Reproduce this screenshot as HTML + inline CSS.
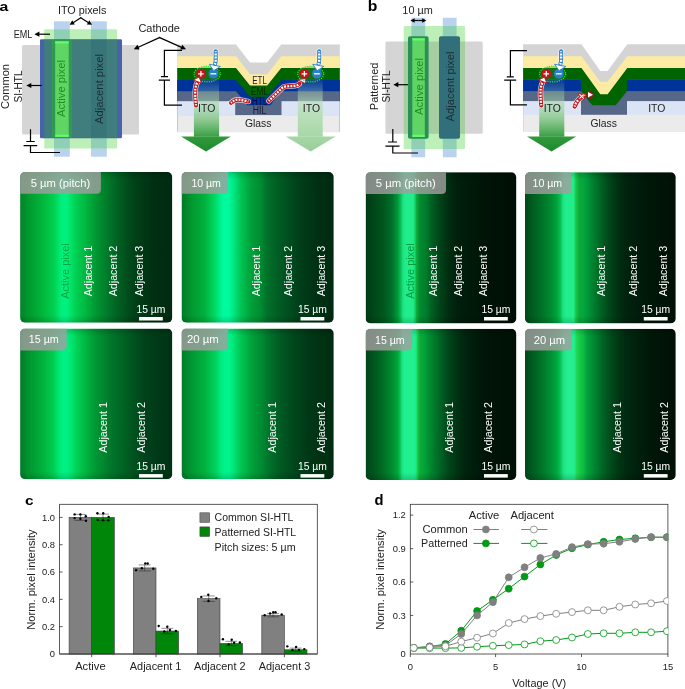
<!DOCTYPE html>
<html lang="en">
<head>
<meta charset="utf-8">
<title>Figure: pixel crosstalk with common and patterned SI-HTL</title>
<style>
html,body{margin:0;padding:0;background:#fff;}
body{width:685px;height:689px;overflow:hidden;font-family:'Liberation Sans', sans-serif;}
svg{display:block;}
svg text{font-family:'Liberation Sans', sans-serif;}
</style>
</head>
<body>
<svg width="685" height="689" viewBox="0 0 685 689">
<rect x="0" y="0" width="685" height="689" fill="#ffffff"/>
<defs>
<linearGradient id="gArrowA" x1="0" y1="0" x2="0" y2="1"><stop offset="0" stop-color="#a8d8a8" stop-opacity="0"/><stop offset="0.3" stop-color="#a8d8a8" stop-opacity="0.4"/><stop offset="0.55" stop-color="#9ad19d" stop-opacity="0.72"/><stop offset="0.76" stop-color="#7cc282" stop-opacity="0.96"/><stop offset="1" stop-color="#3a9e44" stop-opacity="1"/></linearGradient>
<linearGradient id="gArrowB" x1="0" y1="0" x2="0" y2="1"><stop offset="0" stop-color="#b5ddb5" stop-opacity="0"/><stop offset="0.3" stop-color="#b5ddb5" stop-opacity="0.45"/><stop offset="0.6" stop-color="#b9dfb9" stop-opacity="0.95"/><stop offset="1" stop-color="#a6d7a6" stop-opacity="1"/></linearGradient>
<linearGradient id="gHeadA" x1="0" y1="0" x2="0" y2="1"><stop offset="0" stop-color="#33993d"/><stop offset="1" stop-color="#1b8a2c"/></linearGradient>
<linearGradient id="gHeadB" x1="0" y1="0" x2="0" y2="1"><stop offset="0" stop-color="#a6d7a6"/><stop offset="1" stop-color="#97cf97"/></linearGradient>
</defs>
<text x="-0.50" y="10.90" font-size="13.6" fill="#000" font-weight="bold" textLength="8.8" lengthAdjust="spacingAndGlyphs">a</text>
<text x="367.80" y="11.00" font-size="14.5" fill="#000" font-weight="bold" textLength="9.6" lengthAdjust="spacingAndGlyphs">b</text>
<rect x="22" y="45" width="117" height="89.5" rx="1.5" fill="#d5d5d5"/>
<rect x="54" y="21.3" width="15.8" height="135.4" fill="#b9d3ee"/>
<rect x="91" y="21.3" width="15.8" height="135.4" fill="#b9d3ee"/>
<rect x="44.2" y="29.3" width="72.8" height="119.2" rx="1" fill="#bdf0b8"/>
<rect x="54" y="29.3" width="15.8" height="119.2" fill="#8fd0b4"/>
<rect x="91" y="29.3" width="15.8" height="119.2" fill="#8fd0b4"/>
<rect x="40" y="39.3" width="82" height="98.9" rx="1.2" fill="#4763a9"/>
<rect x="44.2" y="39.9" width="72.8" height="97.7" fill="#3f7e7d"/>
<rect x="91" y="39.9" width="15.8" height="97.7" fill="#387579"/>
<rect x="51.6" y="39.9" width="20.4" height="97.7" fill="#2f9a50"/>
<rect x="55.2" y="41.3" width="13.5" height="95.6" fill="#5fd565"/>
<rect x="55.2" y="41.3" width="13.5" height="2.2" fill="#63fb6a"/>
<rect x="55.2" y="134.7" width="13.5" height="2.2" fill="#63fb6a"/>
<text x="65.38" y="88.50" font-size="10.5" fill="#1f8f1f" text-anchor="middle" textLength="57.0" lengthAdjust="spacingAndGlyphs" transform="rotate(-90 65.38 88.50)">Active pixel</text>
<text x="103.08" y="89.00" font-size="10.5" fill="#1d2b33" text-anchor="middle" textLength="70.0" lengthAdjust="spacingAndGlyphs" transform="rotate(-90 103.08 89.00)">Adjacent pixel</text>
<text x="8.90" y="86.50" font-size="10" fill="#222" text-anchor="middle" textLength="45.0" lengthAdjust="spacingAndGlyphs" transform="rotate(-90 8.90 86.50)">Common</text>
<text x="21.80" y="86.50" font-size="10" fill="#222" text-anchor="middle" textLength="32.0" lengthAdjust="spacingAndGlyphs" transform="rotate(-90 21.80 86.50)">SI-HTL</text>
<text x="13.80" y="37.80" font-size="10" fill="#222" textLength="18.6" lengthAdjust="spacingAndGlyphs">EML</text>
<text x="82.20" y="13.80" font-size="10" fill="#222" text-anchor="middle" textLength="48.5" lengthAdjust="spacingAndGlyphs">ITO pixels</text>
<text x="159.20" y="32.10" font-size="10" fill="#222" text-anchor="middle" textLength="41.5" lengthAdjust="spacingAndGlyphs">Cathode</text>
<line x1="50.00" y1="34.20" x2="38.40" y2="34.20" stroke="#000" stroke-width="1.2"/>
<polygon points="34.40,34.20 39.40,31.60 39.40,36.80" fill="#000"/>
<line x1="41.80" y1="85.50" x2="30.30" y2="85.50" stroke="#000" stroke-width="1.2"/>
<polygon points="26.30,85.50 31.30,82.90 31.30,88.10" fill="#000"/>
<line x1="81.20" y1="17.60" x2="72.66" y2="22.90" stroke="#000" stroke-width="1.2"/>
<polygon points="69.60,24.80 72.24,20.33 74.77,24.41" fill="#000"/>
<line x1="80.40" y1="17.60" x2="88.94" y2="22.90" stroke="#000" stroke-width="1.2"/>
<polygon points="92.00,24.80 86.83,24.41 89.36,20.33" fill="#000"/>
<path d="M30.5 129.3V141.5M26.3 141.5H34.8M23.6 145.7H37.2M30.5 145.7V152.5H60" fill="none" stroke="#000" stroke-width="1.2"/>
<rect x="385.4" y="41.5" width="97.3" height="92.3" rx="1.5" fill="#d5d5d5"/>
<rect x="411.4" y="17.8" width="13.8" height="139.5" fill="#b9d3ee"/>
<rect x="442.8" y="17.8" width="13.8" height="139.5" fill="#b9d3ee"/>
<rect x="403.7" y="26" width="61.3" height="123" rx="1" fill="#bdf0b8"/>
<rect x="403.7" y="41.5" width="61.3" height="92.3" fill="#a6cfa1"/>
<rect x="411.4" y="26" width="13.8" height="123" fill="#8fd0b4"/>
<rect x="442.8" y="26" width="13.8" height="123" fill="#8fd0b4"/>
<rect x="408" y="36.3" width="20.6" height="102.5" rx="1.8" fill="#2c8f58"/>
<rect x="412.3" y="38.3" width="12.5" height="98.7" fill="#5fd565"/>
<rect x="412.3" y="38.3" width="12.5" height="2.2" fill="#63fb6a"/>
<rect x="412.3" y="134.8" width="12.5" height="2.2" fill="#63fb6a"/>
<rect x="439" y="36.3" width="21" height="102.5" rx="1.8" fill="#31707b"/>
<text x="423.18" y="86.40" font-size="10.5" fill="#1f8f1f" text-anchor="middle" textLength="57.0" lengthAdjust="spacingAndGlyphs" transform="rotate(-90 423.18 86.40)">Active pixel</text>
<text x="454.38" y="86.40" font-size="10.5" fill="#1d2b33" text-anchor="middle" textLength="70.0" lengthAdjust="spacingAndGlyphs" transform="rotate(-90 454.38 86.40)">Adjacent pixel</text>
<text x="378.40" y="86.40" font-size="10" fill="#222" text-anchor="middle" textLength="47.5" lengthAdjust="spacingAndGlyphs" transform="rotate(-90 378.40 86.40)">Patterned</text>
<text x="390.40" y="86.40" font-size="10" fill="#222" text-anchor="middle" textLength="32.0" lengthAdjust="spacingAndGlyphs" transform="rotate(-90 390.40 86.40)">SI-HTL</text>
<text x="417.60" y="14.40" font-size="10" fill="#222" text-anchor="middle" textLength="30.5" lengthAdjust="spacingAndGlyphs">10 µm</text>
<line x1="418.40" y1="20.50" x2="413.60" y2="20.50" stroke="#000" stroke-width="1.2"/>
<polygon points="410.40,20.50 414.60,18.20 414.60,22.80" fill="#000"/>
<line x1="418.40" y1="20.50" x2="423.20" y2="20.50" stroke="#000" stroke-width="1.2"/>
<polygon points="426.40,20.50 422.20,22.80 422.20,18.20" fill="#000"/>
<line x1="408.00" y1="84.70" x2="397.30" y2="84.70" stroke="#000" stroke-width="1.2"/>
<polygon points="393.30,84.70 398.30,82.10 398.30,87.30" fill="#000"/>
<path d="M392.8 129V142M388 142H397M385.4 146.2H399.5M392.8 146.2V153H418" fill="none" stroke="#000" stroke-width="1.2"/>
<polygon points="177.20,44.60 236.00,44.60 250.00,62.60 267.20,62.60 281.20,44.60 339.80,44.60 339.80,131.60 177.20,131.60" fill="#d4d4d4"/>
<polygon points="177.20,56.30 236.00,56.30 250.00,74.30 267.20,74.30 281.20,56.30 339.80,56.30 339.80,131.60 177.20,131.60" fill="#fdeaa3"/>
<polygon points="177.20,68.00 236.00,68.00 250.00,85.60 267.20,85.60 281.20,68.00 339.80,68.00 339.80,131.60 177.20,131.60" fill="#006400"/>
<polygon points="177.20,80.00 236.00,80.00 250.00,96.80 267.20,96.80 281.20,80.00 339.80,80.00 339.80,131.60 177.20,131.60" fill="#003399"/>
<polygon points="177.20,91.30 236.00,91.30 247.60,105.20 270.40,105.20 281.20,91.30 339.80,91.30 339.80,116.00 177.20,116.00" fill="#566787"/>
<rect x="177.2" y="101.2" width="58.00" height="14.2" fill="#dbe4f5"/>
<rect x="281.5" y="101.2" width="58.30" height="14.2" fill="#dbe4f5"/>
<rect x="177.2" y="115.1" width="162.60" height="17.3" fill="#ebebeb"/>
<polygon points="523.10,44.30 581.50,44.30 600.30,70.90 607.60,70.90 627.30,44.30 685.00,44.30 685.00,131.20 523.10,131.20" fill="#d4d4d4"/>
<polygon points="523.10,56.30 581.50,56.30 600.30,81.80 607.60,81.80 627.30,56.30 685.00,56.30 685.00,131.20 523.10,131.20" fill="#fdeaa3"/>
<polygon points="523.10,68.00 581.50,68.00 600.30,94.20 607.60,94.20 627.30,68.00 685.00,68.00 685.00,131.20 523.10,131.20" fill="#006400"/>
<polygon points="523.10,79.60 581.00,79.60 581.00,91.30 592.30,105.20 615.70,105.20 627.00,91.30 627.00,79.60 685.00,79.60 685.00,115.60 523.10,115.60" fill="#566787"/>
<rect x="523.1" y="79.6" width="57.90" height="11.5" fill="#003399"/>
<rect x="627" y="79.6" width="58.00" height="11.5" fill="#003399"/>
<rect x="523.1" y="101.1" width="57.90" height="14" fill="#dbe4f5"/>
<rect x="627" y="101.1" width="58.00" height="14" fill="#dbe4f5"/>
<rect x="523.1" y="114.8" width="161.90" height="17.2" fill="#ebebeb"/>
<line x1="160.00" y1="37.40" x2="137.62" y2="47.56" stroke="#000" stroke-width="1.2"/>
<polygon points="133.80,49.30 137.46,44.78 139.61,49.52" fill="#000"/>
<line x1="159.20" y1="37.40" x2="182.16" y2="47.60" stroke="#000" stroke-width="1.2"/>
<polygon points="186.00,49.30 180.19,49.57 182.30,44.81" fill="#000"/>
<rect x="193.9" y="78.0" width="25.20" height="58.70" fill="url(#gArrowA)"/>
<polygon points="181.0,136.4 230.8,136.4 206.0,151.5" fill="url(#gHeadA)"/>
<rect x="297.8" y="78.0" width="24.90" height="58.70" fill="url(#gArrowB)"/>
<polygon points="285.7,136.4 335.7,136.4 310.6,151.5" fill="url(#gHeadB)"/>
<rect x="539.2" y="78.0" width="25.10" height="58.70" fill="url(#gArrowA)"/>
<polygon points="527.0,136.4 576.2,136.4 551.5,151.5" fill="url(#gHeadA)"/>
<path d="M182 50.4H164.4V76.7M164.4 80.1V105.2H182M161 76.7H168M158.8 80.1H170" fill="none" stroke="#000" stroke-width="1.2"/>
<path d="M527 50.6H510.4V76.8M510.4 80.1V104.9H527M506.8 76.8H513.8M504.2 80.1H516.2" fill="none" stroke="#000" stroke-width="1.2"/>
<ellipse cx="207.15" cy="74.1" rx="13.1" ry="7.8" fill="#2f8f2f" fill-opacity="0.35" stroke="#33e833" stroke-width="1.2" stroke-dasharray="1.1 1.2"/>
<circle cx="200.9" cy="73.8" r="4.9" fill="#c0141c"/>
<path d="M198.1 73.8H203.70000000000002M200.9 71.0V76.6" stroke="#fff" stroke-width="1.3" fill="none"/>
<circle cx="213.4" cy="73.8" r="4.9" fill="#2a7fc9"/>
<path d="M210.5 73.8H216.3" stroke="#fff" stroke-width="1.3" fill="none"/>
<path d="M215.70 51.2V59.5Q215.70 62.6 214.80 64.4" fill="none" stroke="#ffffff" stroke-width="5.3999999999999995" stroke-linecap="round" stroke-linejoin="round" stroke-opacity="0.8"/>
<path d="M215.70 51.2V59.5Q215.70 62.6 214.80 64.4" fill="none" stroke="#2a7fc9" stroke-width="4.1" stroke-linecap="round" stroke-linejoin="round"/>
<path d="M215.70 51.2V59.5Q215.70 62.6 214.80 64.4" fill="none" stroke="#ffffff" stroke-width="2.3" stroke-dasharray="1.9 1.2" stroke-dashoffset="0.8" stroke-linejoin="round"/>
<polygon points="209.27,64.29 220.37,66.48 213.66,70.63" fill="#ffffff" stroke="#2a7fc9" stroke-width="0.9" stroke-linejoin="round"/>
<path d="M196.00 105.4Q194.80 95 195.40 89Q196.00 84.6 197.20 82.6" fill="none" stroke="#ffffff" stroke-width="5.3999999999999995" stroke-linecap="round" stroke-linejoin="round" stroke-opacity="0.8"/>
<path d="M196.00 105.4Q194.80 95 195.40 89Q196.00 84.6 197.20 82.6" fill="none" stroke="#c0141c" stroke-width="4.1" stroke-linecap="round" stroke-linejoin="round"/>
<path d="M196.00 105.4Q194.80 95 195.40 89Q196.00 84.6 197.20 82.6" fill="none" stroke="#ffffff" stroke-width="2.3" stroke-dasharray="1.9 1.2" stroke-dashoffset="0.8" stroke-linejoin="round"/>
<polygon points="199.10,77.06 193.36,79.99 201.54,83.16" fill="#ffffff" stroke="#c0141c" stroke-width="0.9" stroke-linejoin="round"/>
<path d="M231.0 102.9Q234.4 99.4 238.6 99.7Q243 100 248.4 101.5" fill="none" stroke="#ffffff" stroke-width="5.3999999999999995" stroke-linecap="round" stroke-linejoin="round" stroke-opacity="0.8"/>
<path d="M231.0 102.9Q234.4 99.4 238.6 99.7Q243 100 248.4 101.5" fill="none" stroke="#c0141c" stroke-width="4.1" stroke-linecap="round" stroke-linejoin="round"/>
<path d="M231.0 102.9Q234.4 99.4 238.6 99.7Q243 100 248.4 101.5" fill="none" stroke="#ffffff" stroke-width="2.3" stroke-dasharray="1.9 1.2" stroke-dashoffset="0.8" stroke-linejoin="round"/>
<path d="M268.8 100.9L282 88.2Q283.4 86.6 286 86.4L295 85.8Q297.6 85.6 299.4 83.8" fill="none" stroke="#ffffff" stroke-width="5.3999999999999995" stroke-linecap="round" stroke-linejoin="round" stroke-opacity="0.8"/>
<path d="M268.8 100.9L282 88.2Q283.4 86.6 286 86.4L295 85.8Q297.6 85.6 299.4 83.8" fill="none" stroke="#c0141c" stroke-width="4.1" stroke-linecap="round" stroke-linejoin="round"/>
<path d="M268.8 100.9L282 88.2Q283.4 86.6 286 86.4L295 85.8Q297.6 85.6 299.4 83.8" fill="none" stroke="#ffffff" stroke-width="2.3" stroke-dasharray="1.9 1.2" stroke-dashoffset="0.8" stroke-linejoin="round"/>
<polygon points="305.94,78.19 297.65,79.65 305.21,83.56" fill="#ffffff" stroke="#c0141c" stroke-width="0.9" stroke-linejoin="round"/>
<ellipse cx="310.65" cy="74.1" rx="13.1" ry="7.8" fill="#2f8f2f" fill-opacity="0.35" stroke="#33e833" stroke-width="1.2" stroke-dasharray="1.1 1.2"/>
<circle cx="304.4" cy="73.8" r="4.9" fill="#c0141c"/>
<path d="M301.59999999999997 73.8H307.2M304.4 71.0V76.6" stroke="#fff" stroke-width="1.3" fill="none"/>
<circle cx="316.9" cy="73.8" r="4.9" fill="#2a7fc9"/>
<path d="M314.0 73.8H319.79999999999995" stroke="#fff" stroke-width="1.3" fill="none"/>
<path d="M319.20 51.2V59.5Q319.20 62.6 318.30 64.4" fill="none" stroke="#ffffff" stroke-width="5.3999999999999995" stroke-linecap="round" stroke-linejoin="round" stroke-opacity="0.8"/>
<path d="M319.20 51.2V59.5Q319.20 62.6 318.30 64.4" fill="none" stroke="#2a7fc9" stroke-width="4.1" stroke-linecap="round" stroke-linejoin="round"/>
<path d="M319.20 51.2V59.5Q319.20 62.6 318.30 64.4" fill="none" stroke="#ffffff" stroke-width="2.3" stroke-dasharray="1.9 1.2" stroke-dashoffset="0.8" stroke-linejoin="round"/>
<polygon points="312.77,64.29 323.87,66.48 317.16,70.63" fill="#ffffff" stroke="#2a7fc9" stroke-width="0.9" stroke-linejoin="round"/>
<ellipse cx="552.55" cy="74.1" rx="13.1" ry="7.8" fill="#2f8f2f" fill-opacity="0.35" stroke="#33e833" stroke-width="1.2" stroke-dasharray="1.1 1.2"/>
<circle cx="546.3" cy="73.8" r="4.9" fill="#c0141c"/>
<path d="M543.5 73.8H549.0999999999999M546.3 71.0V76.6" stroke="#fff" stroke-width="1.3" fill="none"/>
<circle cx="558.8" cy="73.8" r="4.9" fill="#2a7fc9"/>
<path d="M555.9 73.8H561.6999999999999" stroke="#fff" stroke-width="1.3" fill="none"/>
<path d="M561.10 51.2V59.5Q561.10 62.6 560.20 64.4" fill="none" stroke="#ffffff" stroke-width="5.3999999999999995" stroke-linecap="round" stroke-linejoin="round" stroke-opacity="0.8"/>
<path d="M561.10 51.2V59.5Q561.10 62.6 560.20 64.4" fill="none" stroke="#2a7fc9" stroke-width="4.1" stroke-linecap="round" stroke-linejoin="round"/>
<path d="M561.10 51.2V59.5Q561.10 62.6 560.20 64.4" fill="none" stroke="#ffffff" stroke-width="2.3" stroke-dasharray="1.9 1.2" stroke-dashoffset="0.8" stroke-linejoin="round"/>
<polygon points="554.67,64.29 565.77,66.48 559.06,70.63" fill="#ffffff" stroke="#2a7fc9" stroke-width="0.9" stroke-linejoin="round"/>
<path d="M541.30 105.4Q540.10 95 540.70 89Q541.30 84.6 542.50 82.6" fill="none" stroke="#ffffff" stroke-width="5.3999999999999995" stroke-linecap="round" stroke-linejoin="round" stroke-opacity="0.8"/>
<path d="M541.30 105.4Q540.10 95 540.70 89Q541.30 84.6 542.50 82.6" fill="none" stroke="#c0141c" stroke-width="4.1" stroke-linecap="round" stroke-linejoin="round"/>
<path d="M541.30 105.4Q540.10 95 540.70 89Q541.30 84.6 542.50 82.6" fill="none" stroke="#ffffff" stroke-width="2.3" stroke-dasharray="1.9 1.2" stroke-dashoffset="0.8" stroke-linejoin="round"/>
<polygon points="544.40,77.06 538.66,79.99 546.84,83.16" fill="#ffffff" stroke="#c0141c" stroke-width="0.9" stroke-linejoin="round"/>
<path d="M574.6 106.6Q576.6 100.6 581.0 97.4" fill="none" stroke="#ffffff" stroke-width="5.3999999999999995" stroke-linecap="round" stroke-linejoin="round" stroke-opacity="0.8"/>
<path d="M574.6 106.6Q576.6 100.6 581.0 97.4" fill="none" stroke="#c0141c" stroke-width="4.1" stroke-linecap="round" stroke-linejoin="round"/>
<path d="M574.6 106.6Q576.6 100.6 581.0 97.4" fill="none" stroke="#ffffff" stroke-width="2.3" stroke-dasharray="1.9 1.2" stroke-dashoffset="0.8" stroke-linejoin="round"/>
<path d="M579.4 94.2l4.4 4.4m0 -4.4l-4.4 4.4" stroke="#c0141c" stroke-width="2.6" fill="none" stroke-linecap="round"/>
<path d="M579.4 94.2l4.4 4.4m0 -4.4l-4.4 4.4" stroke="#fff" stroke-width="1.1" fill="none"/>
<path d="M583.6 95.4L586.4 94.9" stroke="#c0141c" stroke-width="3.4" fill="none"/>
<path d="M583.4 95.4L586.6 94.9" stroke="#fff" stroke-width="1.5" stroke-dasharray="1.2 1" fill="none"/>
<polygon points="589.8,90.0 594.5,94.7 589.8,99.4 585.1,94.7" fill="#a0141a"/>
<polygon points="593.0,94.7 588.0,91.9 588.0,97.5" fill="#ffffff"/>
<text x="259.60" y="84.00" font-size="10" fill="#1a1a1a" text-anchor="middle" textLength="14.6" lengthAdjust="spacingAndGlyphs">ETL</text>
<text x="259.60" y="95.40" font-size="10" fill="#052a05" text-anchor="middle" textLength="17.2" lengthAdjust="spacingAndGlyphs">EML</text>
<text x="259.60" y="105.00" font-size="10" fill="#06103a" text-anchor="middle" textLength="15.8" lengthAdjust="spacingAndGlyphs">HTL</text>
<text x="259.50" y="114.00" font-size="10" fill="#12182a" text-anchor="middle" textLength="13.6" lengthAdjust="spacingAndGlyphs">HIL</text>
<text x="258.20" y="127.00" font-size="10" fill="#222" text-anchor="middle" textLength="26.5" lengthAdjust="spacingAndGlyphs">Glass</text>
<text x="206.70" y="111.60" font-size="10" fill="#222" text-anchor="middle" textLength="17.2" lengthAdjust="spacingAndGlyphs">ITO</text>
<text x="311.40" y="111.60" font-size="10" fill="#222" text-anchor="middle" textLength="17.2" lengthAdjust="spacingAndGlyphs">ITO</text>
<text x="552.30" y="111.60" font-size="10" fill="#222" text-anchor="middle" textLength="17.2" lengthAdjust="spacingAndGlyphs">ITO</text>
<text x="656.80" y="111.60" font-size="10" fill="#222" text-anchor="middle" textLength="17.2" lengthAdjust="spacingAndGlyphs">ITO</text>
<text x="603.70" y="127.00" font-size="10" fill="#222" text-anchor="middle" textLength="26.5" lengthAdjust="spacingAndGlyphs">Glass</text>
<defs>
<linearGradient id="g_a1" x1="0" y1="0" x2="1" y2="0"><stop offset="0.0000" stop-color="#00852a"/><stop offset="0.0767" stop-color="#00a030"/><stop offset="0.1508" stop-color="#00b83c"/><stop offset="0.2230" stop-color="#00d050"/><stop offset="0.2525" stop-color="#00e468"/><stop offset="0.2754" stop-color="#00f080"/><stop offset="0.3049" stop-color="#00f080"/><stop offset="0.3311" stop-color="#00e468"/><stop offset="0.3672" stop-color="#00d054"/><stop offset="0.4262" stop-color="#00b840"/><stop offset="0.4898" stop-color="#009a34"/><stop offset="0.5666" stop-color="#007c2a"/><stop offset="0.6426" stop-color="#006022"/><stop offset="0.7213" stop-color="#00481a"/><stop offset="0.7961" stop-color="#003a16"/><stop offset="0.8721" stop-color="#003012"/><stop offset="1.0000" stop-color="#002a10"/></linearGradient>
<linearGradient id="g_a2" x1="0" y1="0" x2="1" y2="0"><stop offset="0.0000" stop-color="#007a28"/><stop offset="0.0721" stop-color="#009a30"/><stop offset="0.1495" stop-color="#00b03c"/><stop offset="0.2164" stop-color="#00d860"/><stop offset="0.2459" stop-color="#00ea84"/><stop offset="0.2721" stop-color="#00fa9e"/><stop offset="0.3082" stop-color="#00fa9e"/><stop offset="0.3377" stop-color="#00ea84"/><stop offset="0.3902" stop-color="#00c454"/><stop offset="0.4557" stop-color="#00a03a"/><stop offset="0.5167" stop-color="#008c32"/><stop offset="0.5639" stop-color="#00702a"/><stop offset="0.6413" stop-color="#005c24"/><stop offset="0.7174" stop-color="#004a1e"/><stop offset="0.7934" stop-color="#003c18"/><stop offset="0.8708" stop-color="#003214"/><stop offset="1.0000" stop-color="#002a10"/></linearGradient>
<linearGradient id="g_a3" x1="0" y1="0" x2="1" y2="0"><stop offset="0.0000" stop-color="#007c28"/><stop offset="0.0721" stop-color="#009a32"/><stop offset="0.1443" stop-color="#00b03c"/><stop offset="0.2164" stop-color="#00cc50"/><stop offset="0.2525" stop-color="#00e670"/><stop offset="0.2787" stop-color="#00f084"/><stop offset="0.3082" stop-color="#00f084"/><stop offset="0.3344" stop-color="#00e670"/><stop offset="0.3672" stop-color="#00d458"/><stop offset="0.4249" stop-color="#00b842"/><stop offset="0.4984" stop-color="#009634"/><stop offset="0.5377" stop-color="#008a30"/><stop offset="0.5836" stop-color="#007a2c"/><stop offset="0.6557" stop-color="#006826"/><stop offset="0.7475" stop-color="#00521e"/><stop offset="0.8328" stop-color="#00401a"/><stop offset="1.0000" stop-color="#003214"/></linearGradient>
<linearGradient id="g_a4" x1="0" y1="0" x2="1" y2="0"><stop offset="0.0000" stop-color="#007c2a"/><stop offset="0.0721" stop-color="#009a34"/><stop offset="0.1475" stop-color="#00b03e"/><stop offset="0.2197" stop-color="#00d05a"/><stop offset="0.2525" stop-color="#00e878"/><stop offset="0.2820" stop-color="#00f48c"/><stop offset="0.3148" stop-color="#00f48c"/><stop offset="0.3443" stop-color="#00e474"/><stop offset="0.3934" stop-color="#00c452"/><stop offset="0.4590" stop-color="#00a23a"/><stop offset="0.5246" stop-color="#008a32"/><stop offset="0.5869" stop-color="#006e2a"/><stop offset="0.6557" stop-color="#005822"/><stop offset="0.7410" stop-color="#00461c"/><stop offset="0.8328" stop-color="#003816"/><stop offset="1.0000" stop-color="#002c10"/></linearGradient>
<linearGradient id="g_b1" x1="0" y1="0" x2="1" y2="0"><stop offset="0.0000" stop-color="#003a14"/><stop offset="0.0656" stop-color="#004a1a"/><stop offset="0.1272" stop-color="#005a1e"/><stop offset="0.1731" stop-color="#00702a"/><stop offset="0.2111" stop-color="#009a38"/><stop offset="0.2308" stop-color="#0cc05a"/><stop offset="0.2459" stop-color="#1ce484"/><stop offset="0.2649" stop-color="#20ee8c"/><stop offset="0.3108" stop-color="#20ee8c"/><stop offset="0.3226" stop-color="#18d868"/><stop offset="0.3344" stop-color="#10a83c"/><stop offset="0.3567" stop-color="#008a30"/><stop offset="0.3954" stop-color="#007d2b"/><stop offset="0.4328" stop-color="#006022"/><stop offset="0.4872" stop-color="#004318"/><stop offset="0.5410" stop-color="#002e11"/><stop offset="0.6033" stop-color="#001f0c"/><stop offset="0.7213" stop-color="#001808"/><stop offset="0.8000" stop-color="#001306"/><stop offset="1.0000" stop-color="#000e05"/></linearGradient>
<linearGradient id="g_b2" x1="0" y1="0" x2="1" y2="0"><stop offset="0.0000" stop-color="#004a1a"/><stop offset="0.0656" stop-color="#006222"/><stop offset="0.1311" stop-color="#007a2a"/><stop offset="0.1770" stop-color="#008e32"/><stop offset="0.2157" stop-color="#00aa40"/><stop offset="0.2361" stop-color="#0cc65c"/><stop offset="0.2498" stop-color="#1ce484"/><stop offset="0.2689" stop-color="#20ee8c"/><stop offset="0.3187" stop-color="#20ee8c"/><stop offset="0.3305" stop-color="#18d050"/><stop offset="0.3534" stop-color="#10a83a"/><stop offset="0.3843" stop-color="#00a83c"/><stop offset="0.4374" stop-color="#008632"/><stop offset="0.4911" stop-color="#006724"/><stop offset="0.5443" stop-color="#004a1a"/><stop offset="0.6059" stop-color="#003213"/><stop offset="0.6557" stop-color="#00240e"/><stop offset="0.7344" stop-color="#001d0b"/><stop offset="0.8131" stop-color="#001708"/><stop offset="1.0000" stop-color="#001105"/></linearGradient>
<linearGradient id="g_b3" x1="0" y1="0" x2="1" y2="0"><stop offset="0.0000" stop-color="#004418"/><stop offset="0.0721" stop-color="#005c20"/><stop offset="0.1272" stop-color="#007426"/><stop offset="0.1731" stop-color="#008c30"/><stop offset="0.2111" stop-color="#00a83c"/><stop offset="0.2269" stop-color="#08c458"/><stop offset="0.2387" stop-color="#1ae484"/><stop offset="0.2557" stop-color="#20f090"/><stop offset="0.3174" stop-color="#20f090"/><stop offset="0.3305" stop-color="#1ee888"/><stop offset="0.3397" stop-color="#18d048"/><stop offset="0.3567" stop-color="#10a838"/><stop offset="0.3803" stop-color="#00a63a"/><stop offset="0.4328" stop-color="#00842e"/><stop offset="0.4872" stop-color="#006524"/><stop offset="0.5410" stop-color="#00481a"/><stop offset="0.6020" stop-color="#003213"/><stop offset="0.6518" stop-color="#00240e"/><stop offset="0.7344" stop-color="#001a0a"/><stop offset="0.8131" stop-color="#001407"/><stop offset="1.0000" stop-color="#001005"/></linearGradient>
<linearGradient id="g_b4" x1="0" y1="0" x2="1" y2="0"><stop offset="0.0000" stop-color="#004a1a"/><stop offset="0.0656" stop-color="#006222"/><stop offset="0.1311" stop-color="#007e2c"/><stop offset="0.1770" stop-color="#009436"/><stop offset="0.2157" stop-color="#00ae44"/><stop offset="0.2387" stop-color="#10cc60"/><stop offset="0.2538" stop-color="#1ee488"/><stop offset="0.2767" stop-color="#24ee90"/><stop offset="0.3226" stop-color="#24ee90"/><stop offset="0.3377" stop-color="#20d858"/><stop offset="0.3607" stop-color="#18c840"/><stop offset="0.3764" stop-color="#13c046"/><stop offset="0.4066" stop-color="#00a33c"/><stop offset="0.4603" stop-color="#008230"/><stop offset="0.5141" stop-color="#006224"/><stop offset="0.5679" stop-color="#00481a"/><stop offset="0.6216" stop-color="#003513"/><stop offset="0.6689" stop-color="#002910"/><stop offset="0.7475" stop-color="#001f0b"/><stop offset="0.8262" stop-color="#001708"/><stop offset="1.0000" stop-color="#001005"/></linearGradient>
<linearGradient id="gVig" x1="0" y1="0" x2="0" y2="1"><stop offset="0" stop-color="#000" stop-opacity="0.16"/><stop offset="0.05" stop-color="#000" stop-opacity="0"/><stop offset="0.95" stop-color="#000" stop-opacity="0"/><stop offset="1" stop-color="#000" stop-opacity="0.16"/></linearGradient>
</defs>
<clipPath id="clip_a1"><rect x="20.1" y="172.0" width="152.1" height="150.7" rx="5"/></clipPath>
<g clip-path="url(#clip_a1)">
<rect x="20.1" y="172.0" width="152.5" height="150.7" fill="url(#g_a1)"/>
<rect x="20.1" y="172.0" width="152.5" height="150.7" fill="url(#gVig)"/>
<path d="M20.1 172.0H100.9V189.3Q100.9 193.8 96.4 193.8H20.1Z" fill="#a29ea0" fill-opacity="0.81"/>
</g>
<text x="30.70" y="186.79" font-size="10.8" fill="#ffffff" textLength="59.5" lengthAdjust="spacingAndGlyphs">5 µm (pitch)</text>
<text x="68.79" y="271.00" font-size="10.8" fill="#0aa83c" text-anchor="middle" textLength="55.4" lengthAdjust="spacingAndGlyphs" transform="rotate(-90 68.79 271.00)">Active pixel</text>
<text x="91.69" y="271.00" font-size="10.8" fill="#ffffff" text-anchor="middle" textLength="50.6" lengthAdjust="spacingAndGlyphs" transform="rotate(-90 91.69 271.00)">Adjacent 1</text>
<text x="116.59" y="271.00" font-size="10.8" fill="#ffffff" text-anchor="middle" textLength="50.6" lengthAdjust="spacingAndGlyphs" transform="rotate(-90 116.59 271.00)">Adjacent 2</text>
<text x="142.89" y="271.00" font-size="10.8" fill="#ffffff" text-anchor="middle" textLength="50.6" lengthAdjust="spacingAndGlyphs" transform="rotate(-90 142.89 271.00)">Adjacent 3</text>
<text x="150.90" y="312.50" font-size="10.8" fill="#ffffff" text-anchor="middle" textLength="29.0" lengthAdjust="spacingAndGlyphs">15 µm</text>
<rect x="139.00" y="317.00" width="23.8" height="3.5" fill="#ffffff"/>
<clipPath id="clip_a2"><rect x="181.5" y="172.0" width="152.1" height="150.7" rx="5"/></clipPath>
<g clip-path="url(#clip_a2)">
<rect x="181.5" y="172.0" width="152.5" height="150.7" fill="url(#g_a2)"/>
<rect x="181.5" y="172.0" width="152.5" height="150.7" fill="url(#gVig)"/>
<path d="M181.5 172.0H228.1V189.3Q228.1 193.8 223.6 193.8H181.5Z" fill="#a29ea0" fill-opacity="0.81"/>
</g>
<text x="191.40" y="186.79" font-size="10.8" fill="#ffffff" textLength="29.5" lengthAdjust="spacingAndGlyphs">10 µm</text>
<text x="259.59" y="271.00" font-size="10.8" fill="#ffffff" text-anchor="middle" textLength="50.6" lengthAdjust="spacingAndGlyphs" transform="rotate(-90 259.59 271.00)">Adjacent 1</text>
<text x="292.19" y="271.00" font-size="10.8" fill="#ffffff" text-anchor="middle" textLength="50.6" lengthAdjust="spacingAndGlyphs" transform="rotate(-90 292.19 271.00)">Adjacent 2</text>
<text x="324.69" y="271.00" font-size="10.8" fill="#ffffff" text-anchor="middle" textLength="50.6" lengthAdjust="spacingAndGlyphs" transform="rotate(-90 324.69 271.00)">Adjacent 3</text>
<text x="312.40" y="312.50" font-size="10.8" fill="#ffffff" text-anchor="middle" textLength="29.0" lengthAdjust="spacingAndGlyphs">15 µm</text>
<rect x="300.50" y="317.00" width="23.8" height="3.5" fill="#ffffff"/>
<clipPath id="clip_a3"><rect x="20.1" y="328.6" width="152.1" height="150.7" rx="5"/></clipPath>
<g clip-path="url(#clip_a3)">
<rect x="20.1" y="328.6" width="152.5" height="150.7" fill="url(#g_a3)"/>
<rect x="20.1" y="328.6" width="152.5" height="150.7" fill="url(#gVig)"/>
<path d="M20.1 328.6H66.7V345.90000000000003Q66.7 350.40000000000003 62.2 350.40000000000003H20.1Z" fill="#a29ea0" fill-opacity="0.81"/>
</g>
<text x="28.80" y="343.39" font-size="10.8" fill="#ffffff" textLength="30.0" lengthAdjust="spacingAndGlyphs">15 µm</text>
<text x="106.89" y="427.40" font-size="10.8" fill="#ffffff" text-anchor="middle" textLength="50.6" lengthAdjust="spacingAndGlyphs" transform="rotate(-90 106.89 427.40)">Adjacent 1</text>
<text x="145.39" y="427.40" font-size="10.8" fill="#ffffff" text-anchor="middle" textLength="50.6" lengthAdjust="spacingAndGlyphs" transform="rotate(-90 145.39 427.40)">Adjacent 2</text>
<text x="150.90" y="469.60" font-size="10.8" fill="#ffffff" text-anchor="middle" textLength="29.0" lengthAdjust="spacingAndGlyphs">15 µm</text>
<rect x="139.00" y="474.10" width="23.8" height="3.5" fill="#ffffff"/>
<clipPath id="clip_a4"><rect x="181.5" y="328.6" width="152.1" height="150.7" rx="5"/></clipPath>
<g clip-path="url(#clip_a4)">
<rect x="181.5" y="328.6" width="152.5" height="150.7" fill="url(#g_a4)"/>
<rect x="181.5" y="328.6" width="152.5" height="150.7" fill="url(#gVig)"/>
<path d="M181.5 328.6H228.1V345.90000000000003Q228.1 350.40000000000003 223.6 350.40000000000003H181.5Z" fill="#a29ea0" fill-opacity="0.81"/>
</g>
<text x="187.00" y="343.39" font-size="10.8" fill="#ffffff" textLength="31.8" lengthAdjust="spacingAndGlyphs">20 µm</text>
<text x="276.49" y="427.40" font-size="10.8" fill="#ffffff" text-anchor="middle" textLength="50.6" lengthAdjust="spacingAndGlyphs" transform="rotate(-90 276.49 427.40)">Adjacent 1</text>
<text x="324.69" y="427.40" font-size="10.8" fill="#ffffff" text-anchor="middle" textLength="50.6" lengthAdjust="spacingAndGlyphs" transform="rotate(-90 324.69 427.40)">Adjacent 2</text>
<text x="312.40" y="469.60" font-size="10.8" fill="#ffffff" text-anchor="middle" textLength="29.0" lengthAdjust="spacingAndGlyphs">15 µm</text>
<rect x="300.50" y="474.10" width="23.8" height="3.5" fill="#ffffff"/>
<clipPath id="clip_b1"><rect x="365.6" y="172.2" width="150.6" height="151.2" rx="5"/></clipPath>
<g clip-path="url(#clip_b1)">
<rect x="365.6" y="172.2" width="152.5" height="151.2" fill="url(#g_b1)"/>
<rect x="365.6" y="172.2" width="152.5" height="151.2" fill="url(#gVig)"/>
<path d="M365.6 172.2H446.0V189.5Q446.0 194.0 441.5 194.0H365.6Z" fill="#a29ea0" fill-opacity="0.81"/>
</g>
<text x="375.80" y="186.99" font-size="10.8" fill="#ffffff" textLength="60.0" lengthAdjust="spacingAndGlyphs">5 µm (pitch)</text>
<text x="413.79" y="271.00" font-size="10.8" fill="#069c3a" text-anchor="middle" textLength="55.4" lengthAdjust="spacingAndGlyphs" transform="rotate(-90 413.79 271.00)">Active pixel</text>
<text x="436.69" y="271.00" font-size="10.8" fill="#ffffff" text-anchor="middle" textLength="50.6" lengthAdjust="spacingAndGlyphs" transform="rotate(-90 436.69 271.00)">Adjacent 1</text>
<text x="462.49" y="271.00" font-size="10.8" fill="#ffffff" text-anchor="middle" textLength="50.6" lengthAdjust="spacingAndGlyphs" transform="rotate(-90 462.49 271.00)">Adjacent 2</text>
<text x="487.29" y="271.00" font-size="10.8" fill="#ffffff" text-anchor="middle" textLength="50.6" lengthAdjust="spacingAndGlyphs" transform="rotate(-90 487.29 271.00)">Adjacent 3</text>
<text x="495.90" y="312.50" font-size="10.8" fill="#ffffff" text-anchor="middle" textLength="29.0" lengthAdjust="spacingAndGlyphs">15 µm</text>
<rect x="484.00" y="317.00" width="23.8" height="3.5" fill="#ffffff"/>
<clipPath id="clip_b2"><rect x="525.0" y="172.2" width="150.6" height="151.2" rx="5"/></clipPath>
<g clip-path="url(#clip_b2)">
<rect x="525.0" y="172.2" width="152.5" height="151.2" fill="url(#g_b2)"/>
<rect x="525.0" y="172.2" width="152.5" height="151.2" fill="url(#gVig)"/>
<path d="M525.0 172.2H571.6V189.5Q571.6 194.0 567.1 194.0H525.0Z" fill="#a29ea0" fill-opacity="0.81"/>
</g>
<text x="532.50" y="186.99" font-size="10.8" fill="#ffffff" textLength="29.7" lengthAdjust="spacingAndGlyphs">10 µm</text>
<text x="604.59" y="271.00" font-size="10.8" fill="#ffffff" text-anchor="middle" textLength="50.6" lengthAdjust="spacingAndGlyphs" transform="rotate(-90 604.59 271.00)">Adjacent 1</text>
<text x="637.19" y="271.00" font-size="10.8" fill="#ffffff" text-anchor="middle" textLength="50.6" lengthAdjust="spacingAndGlyphs" transform="rotate(-90 637.19 271.00)">Adjacent 2</text>
<text x="666.69" y="271.00" font-size="10.8" fill="#ffffff" text-anchor="middle" textLength="50.6" lengthAdjust="spacingAndGlyphs" transform="rotate(-90 666.69 271.00)">Adjacent 3</text>
<text x="655.70" y="312.50" font-size="10.8" fill="#ffffff" text-anchor="middle" textLength="29.0" lengthAdjust="spacingAndGlyphs">15 µm</text>
<rect x="643.80" y="317.00" width="23.8" height="3.5" fill="#ffffff"/>
<clipPath id="clip_b3"><rect x="365.6" y="328.8" width="150.6" height="151.2" rx="5"/></clipPath>
<g clip-path="url(#clip_b3)">
<rect x="365.6" y="328.8" width="152.5" height="151.2" fill="url(#g_b3)"/>
<rect x="365.6" y="328.8" width="152.5" height="151.2" fill="url(#gVig)"/>
<path d="M365.6 328.8H412.20000000000005V346.1Q412.20000000000005 350.6 407.70000000000005 350.6H365.6Z" fill="#a29ea0" fill-opacity="0.81"/>
</g>
<text x="375.00" y="343.59" font-size="10.8" fill="#ffffff" textLength="29.7" lengthAdjust="spacingAndGlyphs">15 µm</text>
<text x="453.09" y="427.40" font-size="10.8" fill="#ffffff" text-anchor="middle" textLength="50.6" lengthAdjust="spacingAndGlyphs" transform="rotate(-90 453.09 427.40)">Adjacent 1</text>
<text x="492.09" y="427.40" font-size="10.8" fill="#ffffff" text-anchor="middle" textLength="50.6" lengthAdjust="spacingAndGlyphs" transform="rotate(-90 492.09 427.40)">Adjacent 2</text>
<text x="495.90" y="469.60" font-size="10.8" fill="#ffffff" text-anchor="middle" textLength="29.0" lengthAdjust="spacingAndGlyphs">15 µm</text>
<rect x="484.00" y="474.10" width="23.8" height="3.5" fill="#ffffff"/>
<clipPath id="clip_b4"><rect x="525.0" y="328.8" width="150.6" height="151.2" rx="5"/></clipPath>
<g clip-path="url(#clip_b4)">
<rect x="525.0" y="328.8" width="152.5" height="151.2" fill="url(#g_b4)"/>
<rect x="525.0" y="328.8" width="152.5" height="151.2" fill="url(#gVig)"/>
<path d="M525.0 328.8H571.6V346.1Q571.6 350.6 567.1 350.6H525.0Z" fill="#a29ea0" fill-opacity="0.81"/>
</g>
<text x="533.70" y="343.59" font-size="10.8" fill="#ffffff" textLength="31.4" lengthAdjust="spacingAndGlyphs">20 µm</text>
<text x="620.79" y="427.40" font-size="10.8" fill="#ffffff" text-anchor="middle" textLength="50.6" lengthAdjust="spacingAndGlyphs" transform="rotate(-90 620.79 427.40)">Adjacent 1</text>
<text x="668.49" y="427.40" font-size="10.8" fill="#ffffff" text-anchor="middle" textLength="50.6" lengthAdjust="spacingAndGlyphs" transform="rotate(-90 668.49 427.40)">Adjacent 2</text>
<text x="655.70" y="469.60" font-size="10.8" fill="#ffffff" text-anchor="middle" textLength="29.0" lengthAdjust="spacingAndGlyphs">15 µm</text>
<rect x="643.80" y="474.10" width="23.8" height="3.5" fill="#ffffff"/>
<text x="25.00" y="504.90" font-size="13.5" fill="#000" font-weight="bold" textLength="8.6" lengthAdjust="spacingAndGlyphs">c</text>
<text x="374.60" y="504.50" font-size="14.2" fill="#000" font-weight="bold" textLength="9.0" lengthAdjust="spacingAndGlyphs">d</text>
<rect x="59.6" y="504.3" width="257.70" height="149.70" fill="#fff" stroke="#333333" stroke-width="0.8"/>
<text x="55.00" y="657.38" font-size="9.4" fill="#222222" text-anchor="end">0</text>
<line x1="59.6" y1="626.68" x2="62.6" y2="626.68" stroke="#333333" stroke-width="0.8"/>
<text x="55.00" y="630.06" font-size="9.4" fill="#222222" text-anchor="end">0.2</text>
<line x1="59.6" y1="599.36" x2="62.6" y2="599.36" stroke="#333333" stroke-width="0.8"/>
<text x="55.00" y="602.74" font-size="9.4" fill="#222222" text-anchor="end">0.4</text>
<line x1="59.6" y1="572.04" x2="62.6" y2="572.04" stroke="#333333" stroke-width="0.8"/>
<text x="55.00" y="575.42" font-size="9.4" fill="#222222" text-anchor="end">0.6</text>
<line x1="59.6" y1="544.72" x2="62.6" y2="544.72" stroke="#333333" stroke-width="0.8"/>
<text x="55.00" y="548.10" font-size="9.4" fill="#222222" text-anchor="end">0.8</text>
<line x1="59.6" y1="517.40" x2="62.6" y2="517.40" stroke="#333333" stroke-width="0.8"/>
<text x="55.00" y="520.78" font-size="9.4" fill="#222222" text-anchor="end">1.0</text>
<text x="34.60" y="579.60" font-size="10" fill="#222222" text-anchor="middle" textLength="100.5" lengthAdjust="spacingAndGlyphs" transform="rotate(-90 34.60 579.60)">Norm. pixel intensity</text>
<rect x="69.10" y="517.40" width="22.6" height="136.60" fill="#808080" stroke="#3a3a3a" stroke-width="0.6"/>
<path d="M80.40 514.39V520.41M74.40 514.39H86.40M74.40 520.41H86.40" stroke="#222" stroke-width="0.5" fill="none"/>
<circle cx="74.60" cy="514.39" r="1.2" fill="#000"/>
<circle cx="80.40" cy="514.39" r="1.2" fill="#000"/>
<circle cx="85.80" cy="516.31" r="1.2" fill="#000"/>
<circle cx="74.60" cy="518.08" r="1.2" fill="#000"/>
<circle cx="80.40" cy="518.77" r="1.2" fill="#000"/>
<circle cx="86.00" cy="520.82" r="1.2" fill="#000"/>
<rect x="91.70" y="517.40" width="22.6" height="136.60" fill="#00870a" stroke="#3a3a3a" stroke-width="0.6"/>
<path d="M103.00 514.12V520.68M97.00 514.12H109.00M97.00 520.68H109.00" stroke="#222" stroke-width="0.5" fill="none"/>
<circle cx="97.40" cy="513.30" r="1.2" fill="#000"/>
<circle cx="103.20" cy="513.30" r="1.2" fill="#000"/>
<circle cx="108.60" cy="516.85" r="1.2" fill="#000"/>
<circle cx="97.60" cy="519.86" r="1.2" fill="#000"/>
<circle cx="103.00" cy="520.13" r="1.2" fill="#000"/>
<circle cx="108.40" cy="520.13" r="1.2" fill="#000"/>
<line x1="91.7" y1="654.0" x2="91.7" y2="657.2" stroke="#333333" stroke-width="0.8"/>
<text x="90.40" y="670.30" font-size="10" fill="#222222" text-anchor="middle" textLength="30.5" lengthAdjust="spacingAndGlyphs">Active</text>
<rect x="133.40" y="567.94" width="22.6" height="86.06" fill="#808080" stroke="#3a3a3a" stroke-width="0.6"/>
<path d="M144.70 564.94V570.95M138.70 564.94H150.70M138.70 570.95H150.70" stroke="#222" stroke-width="0.5" fill="none"/>
<circle cx="136.10" cy="570.13" r="1.2" fill="#000"/>
<circle cx="141.90" cy="568.22" r="1.2" fill="#000"/>
<circle cx="145.30" cy="563.57" r="1.2" fill="#000"/>
<circle cx="147.70" cy="563.57" r="1.2" fill="#000"/>
<circle cx="153.30" cy="568.76" r="1.2" fill="#000"/>
<rect x="156.00" y="631.05" width="22.6" height="22.95" fill="#00870a" stroke="#3a3a3a" stroke-width="0.6"/>
<path d="M167.30 628.32V633.78M161.30 628.32H173.30M161.30 633.78H173.30" stroke="#222" stroke-width="0.5" fill="none"/>
<circle cx="158.70" cy="626.00" r="1.2" fill="#000"/>
<circle cx="164.30" cy="631.46" r="1.2" fill="#000"/>
<circle cx="167.30" cy="626.68" r="1.2" fill="#000"/>
<circle cx="169.90" cy="629.96" r="1.2" fill="#000"/>
<circle cx="175.90" cy="631.05" r="1.2" fill="#000"/>
<line x1="156.0" y1="654.0" x2="156.0" y2="657.2" stroke="#333333" stroke-width="0.8"/>
<text x="155.60" y="670.30" font-size="10" fill="#222222" text-anchor="middle" textLength="51.5" lengthAdjust="spacingAndGlyphs">Adjacent 1</text>
<rect x="197.40" y="598.68" width="22.6" height="55.32" fill="#808080" stroke="#3a3a3a" stroke-width="0.6"/>
<path d="M208.70 595.94V601.41M202.70 595.94H214.70M202.70 601.41H214.70" stroke="#222" stroke-width="0.5" fill="none"/>
<circle cx="201.30" cy="596.90" r="1.2" fill="#000"/>
<circle cx="208.30" cy="594.72" r="1.2" fill="#000"/>
<circle cx="208.50" cy="601.00" r="1.2" fill="#000"/>
<circle cx="216.30" cy="598.27" r="1.2" fill="#000"/>
<rect x="220.00" y="643.48" width="22.6" height="10.52" fill="#00870a" stroke="#3a3a3a" stroke-width="0.6"/>
<path d="M231.30 641.30V645.67M225.30 641.30H237.30M225.30 645.67H237.30" stroke="#222" stroke-width="0.5" fill="none"/>
<circle cx="222.90" cy="639.25" r="1.2" fill="#000"/>
<circle cx="228.70" cy="644.44" r="1.2" fill="#000"/>
<circle cx="231.70" cy="639.79" r="1.2" fill="#000"/>
<circle cx="234.10" cy="642.80" r="1.2" fill="#000"/>
<circle cx="239.90" cy="642.53" r="1.2" fill="#000"/>
<line x1="220.0" y1="654.0" x2="220.0" y2="657.2" stroke="#333333" stroke-width="0.8"/>
<text x="219.80" y="670.30" font-size="10" fill="#222222" text-anchor="middle" textLength="51.5" lengthAdjust="spacingAndGlyphs">Adjacent 2</text>
<rect x="261.80" y="615.21" width="22.6" height="38.79" fill="#808080" stroke="#3a3a3a" stroke-width="0.6"/>
<path d="M273.10 613.57V616.84M267.10 613.57H279.10M267.10 616.84H279.10" stroke="#222" stroke-width="0.5" fill="none"/>
<circle cx="264.70" cy="615.21" r="1.2" fill="#000"/>
<circle cx="270.10" cy="613.57" r="1.2" fill="#000"/>
<circle cx="273.30" cy="612.20" r="1.2" fill="#000"/>
<circle cx="275.50" cy="612.20" r="1.2" fill="#000"/>
<circle cx="281.70" cy="614.39" r="1.2" fill="#000"/>
<rect x="284.40" y="649.77" width="22.6" height="4.23" fill="#00870a" stroke="#3a3a3a" stroke-width="0.6"/>
<path d="M295.70 648.13V651.40M289.70 648.13H301.70M289.70 651.40H301.70" stroke="#222" stroke-width="0.5" fill="none"/>
<circle cx="287.30" cy="646.35" r="1.2" fill="#000"/>
<circle cx="292.50" cy="649.90" r="1.2" fill="#000"/>
<circle cx="296.10" cy="646.90" r="1.2" fill="#000"/>
<circle cx="298.90" cy="649.90" r="1.2" fill="#000"/>
<circle cx="304.30" cy="649.08" r="1.2" fill="#000"/>
<line x1="284.4" y1="654.0" x2="284.4" y2="657.2" stroke="#333333" stroke-width="0.8"/>
<text x="284.50" y="670.30" font-size="10" fill="#222222" text-anchor="middle" textLength="51.5" lengthAdjust="spacingAndGlyphs">Adjacent 3</text>
<line x1="59.6" y1="654.0" x2="317.3" y2="654.0" stroke="#333333" stroke-width="0.8"/>
<rect x="199.9" y="512.8" width="9.8" height="9.6" fill="#808080" stroke="#3a3a3a" stroke-width="0.5"/>
<rect x="199.9" y="526.9" width="9.8" height="9.6" fill="#00870a" stroke="#3a3a3a" stroke-width="0.5"/>
<text x="214.60" y="521.20" font-size="10" fill="#222222" textLength="78.8" lengthAdjust="spacingAndGlyphs">Common SI-HTL</text>
<text x="214.60" y="535.50" font-size="10" fill="#222222" textLength="81.6" lengthAdjust="spacingAndGlyphs">Patterned SI-HTL</text>
<text x="214.60" y="550.80" font-size="10" fill="#222222" textLength="81.0" lengthAdjust="spacingAndGlyphs">Pitch sizes: 5 µm</text>
<rect x="410.3" y="504.3" width="257.60" height="149.70" fill="#fff" stroke="#333333" stroke-width="0.8"/>
<line x1="410.3" y1="515.1" x2="413.3" y2="515.1" stroke="#333333" stroke-width="0.8"/>
<text x="405.80" y="518.48" font-size="9.4" fill="#222222" text-anchor="end">1.2</text>
<line x1="410.3" y1="548.7" x2="413.3" y2="548.7" stroke="#333333" stroke-width="0.8"/>
<text x="405.80" y="552.08" font-size="9.4" fill="#222222" text-anchor="end">0.9</text>
<line x1="410.3" y1="582.0" x2="413.3" y2="582.0" stroke="#333333" stroke-width="0.8"/>
<text x="405.80" y="585.38" font-size="9.4" fill="#222222" text-anchor="end">0.6</text>
<line x1="410.3" y1="615.4" x2="413.3" y2="615.4" stroke="#333333" stroke-width="0.8"/>
<text x="405.80" y="618.78" font-size="9.4" fill="#222222" text-anchor="end">0.3</text>
<text x="405.80" y="657.38" font-size="9.4" fill="#222222" text-anchor="end">0</text>
<line x1="410.3" y1="654.0" x2="410.3" y2="657.0" stroke="#333333" stroke-width="0.8"/>
<text x="410.30" y="670.38" font-size="9.4" fill="#222222" text-anchor="middle">0</text>
<line x1="495.6" y1="654.0" x2="495.6" y2="657.0" stroke="#333333" stroke-width="0.8"/>
<text x="495.60" y="670.38" font-size="9.4" fill="#222222" text-anchor="middle">5</text>
<line x1="581.5" y1="654.0" x2="581.5" y2="657.0" stroke="#333333" stroke-width="0.8"/>
<text x="581.50" y="670.38" font-size="9.4" fill="#222222" text-anchor="middle">10</text>
<line x1="667.9" y1="654.0" x2="667.9" y2="657.0" stroke="#333333" stroke-width="0.8"/>
<text x="667.90" y="670.38" font-size="9.4" fill="#222222" text-anchor="middle">15</text>
<text x="383.60" y="579.40" font-size="10" fill="#222222" text-anchor="middle" textLength="100.5" lengthAdjust="spacingAndGlyphs" transform="rotate(-90 383.60 579.40)">Norm. pixel intensity</text>
<text x="539.20" y="687.20" font-size="10" fill="#222222" text-anchor="middle" textLength="54.0" lengthAdjust="spacingAndGlyphs">Voltage (V)</text>
<clipPath id="clipD"><rect x="404.3" y="504.3" width="264.00" height="151.70"/></clipPath>
<g clip-path="url(#clipD)">
<path d="M413.80 647.90 L429.62 646.70 L445.44 644.00 L461.26 630.70 L477.08 611.00 L492.90 599.80 L508.72 588.70 L524.54 576.60 L540.36 564.50 L556.18 555.00 L572.00 548.30 L587.82 544.60 L603.64 541.80 L619.46 539.50 L635.28 538.30 L651.10 537.20 L666.92 537.20" fill="none" stroke="#009a14" stroke-width="1"/>
<circle cx="413.80" cy="647.90" r="3.45" fill="#009a14" stroke="#009a14" stroke-width="0.8"/>
<circle cx="429.62" cy="646.70" r="3.45" fill="#009a14" stroke="#009a14" stroke-width="0.8"/>
<circle cx="445.44" cy="644.00" r="3.45" fill="#009a14" stroke="#009a14" stroke-width="0.8"/>
<circle cx="461.26" cy="630.70" r="3.45" fill="#009a14" stroke="#009a14" stroke-width="0.8"/>
<circle cx="477.08" cy="611.00" r="3.45" fill="#009a14" stroke="#009a14" stroke-width="0.8"/>
<circle cx="492.90" cy="599.80" r="3.45" fill="#009a14" stroke="#009a14" stroke-width="0.8"/>
<circle cx="508.72" cy="588.70" r="3.45" fill="#009a14" stroke="#009a14" stroke-width="0.8"/>
<circle cx="524.54" cy="576.60" r="3.45" fill="#009a14" stroke="#009a14" stroke-width="0.8"/>
<circle cx="540.36" cy="564.50" r="3.45" fill="#009a14" stroke="#009a14" stroke-width="0.8"/>
<circle cx="556.18" cy="555.00" r="3.45" fill="#009a14" stroke="#009a14" stroke-width="0.8"/>
<circle cx="572.00" cy="548.30" r="3.45" fill="#009a14" stroke="#009a14" stroke-width="0.8"/>
<circle cx="587.82" cy="544.60" r="3.45" fill="#009a14" stroke="#009a14" stroke-width="0.8"/>
<circle cx="603.64" cy="541.80" r="3.45" fill="#009a14" stroke="#009a14" stroke-width="0.8"/>
<circle cx="619.46" cy="539.50" r="3.45" fill="#009a14" stroke="#009a14" stroke-width="0.8"/>
<circle cx="635.28" cy="538.30" r="3.45" fill="#009a14" stroke="#009a14" stroke-width="0.8"/>
<circle cx="651.10" cy="537.20" r="3.45" fill="#009a14" stroke="#009a14" stroke-width="0.8"/>
<circle cx="666.92" cy="537.20" r="3.45" fill="#009a14" stroke="#009a14" stroke-width="0.8"/>
<path d="M413.80 647.90 L429.62 646.30 L445.44 645.40 L461.26 634.00 L477.08 615.40 L492.90 602.20 L508.72 577.30 L524.54 567.30 L540.36 558.00 L556.18 553.90 L572.00 547.10 L587.82 544.10 L603.64 543.70 L619.46 541.80 L635.28 539.00 L651.10 537.20 L666.92 537.20" fill="none" stroke="#808080" stroke-width="1"/>
<circle cx="413.80" cy="647.90" r="3.45" fill="#808080" stroke="#808080" stroke-width="0.8"/>
<circle cx="429.62" cy="646.30" r="3.45" fill="#808080" stroke="#808080" stroke-width="0.8"/>
<circle cx="445.44" cy="645.40" r="3.45" fill="#808080" stroke="#808080" stroke-width="0.8"/>
<circle cx="461.26" cy="634.00" r="3.45" fill="#808080" stroke="#808080" stroke-width="0.8"/>
<circle cx="477.08" cy="615.40" r="3.45" fill="#808080" stroke="#808080" stroke-width="0.8"/>
<circle cx="492.90" cy="602.20" r="3.45" fill="#808080" stroke="#808080" stroke-width="0.8"/>
<circle cx="508.72" cy="577.30" r="3.45" fill="#808080" stroke="#808080" stroke-width="0.8"/>
<circle cx="524.54" cy="567.30" r="3.45" fill="#808080" stroke="#808080" stroke-width="0.8"/>
<circle cx="540.36" cy="558.00" r="3.45" fill="#808080" stroke="#808080" stroke-width="0.8"/>
<circle cx="556.18" cy="553.90" r="3.45" fill="#808080" stroke="#808080" stroke-width="0.8"/>
<circle cx="572.00" cy="547.10" r="3.45" fill="#808080" stroke="#808080" stroke-width="0.8"/>
<circle cx="587.82" cy="544.10" r="3.45" fill="#808080" stroke="#808080" stroke-width="0.8"/>
<circle cx="603.64" cy="543.70" r="3.45" fill="#808080" stroke="#808080" stroke-width="0.8"/>
<circle cx="619.46" cy="541.80" r="3.45" fill="#808080" stroke="#808080" stroke-width="0.8"/>
<circle cx="635.28" cy="539.00" r="3.45" fill="#808080" stroke="#808080" stroke-width="0.8"/>
<circle cx="651.10" cy="537.20" r="3.45" fill="#808080" stroke="#808080" stroke-width="0.8"/>
<circle cx="666.92" cy="537.20" r="3.45" fill="#808080" stroke="#808080" stroke-width="0.8"/>
<path d="M413.80 648.10 L429.62 648.10 L445.44 648.10 L461.26 647.90 L477.08 646.70 L492.90 645.80 L508.72 645.10 L524.54 644.40 L540.36 641.20 L556.18 640.00 L572.00 637.50 L587.82 634.00 L603.64 633.30 L619.46 633.30 L635.28 632.30 L651.10 632.30 L666.92 631.20" fill="none" stroke="#009a14" stroke-width="1"/>
<circle cx="413.80" cy="648.10" r="3.45" fill="#ffffff" stroke="#009a14" stroke-width="0.8"/>
<circle cx="429.62" cy="648.10" r="3.45" fill="#ffffff" stroke="#009a14" stroke-width="0.8"/>
<circle cx="445.44" cy="648.10" r="3.45" fill="#ffffff" stroke="#009a14" stroke-width="0.8"/>
<circle cx="461.26" cy="647.90" r="3.45" fill="#ffffff" stroke="#009a14" stroke-width="0.8"/>
<circle cx="477.08" cy="646.70" r="3.45" fill="#ffffff" stroke="#009a14" stroke-width="0.8"/>
<circle cx="492.90" cy="645.80" r="3.45" fill="#ffffff" stroke="#009a14" stroke-width="0.8"/>
<circle cx="508.72" cy="645.10" r="3.45" fill="#ffffff" stroke="#009a14" stroke-width="0.8"/>
<circle cx="524.54" cy="644.40" r="3.45" fill="#ffffff" stroke="#009a14" stroke-width="0.8"/>
<circle cx="540.36" cy="641.20" r="3.45" fill="#ffffff" stroke="#009a14" stroke-width="0.8"/>
<circle cx="556.18" cy="640.00" r="3.45" fill="#ffffff" stroke="#009a14" stroke-width="0.8"/>
<circle cx="572.00" cy="637.50" r="3.45" fill="#ffffff" stroke="#009a14" stroke-width="0.8"/>
<circle cx="587.82" cy="634.00" r="3.45" fill="#ffffff" stroke="#009a14" stroke-width="0.8"/>
<circle cx="603.64" cy="633.30" r="3.45" fill="#ffffff" stroke="#009a14" stroke-width="0.8"/>
<circle cx="619.46" cy="633.30" r="3.45" fill="#ffffff" stroke="#009a14" stroke-width="0.8"/>
<circle cx="635.28" cy="632.30" r="3.45" fill="#ffffff" stroke="#009a14" stroke-width="0.8"/>
<circle cx="651.10" cy="632.30" r="3.45" fill="#ffffff" stroke="#009a14" stroke-width="0.8"/>
<circle cx="666.92" cy="631.20" r="3.45" fill="#ffffff" stroke="#009a14" stroke-width="0.8"/>
<path d="M413.80 647.90 L429.62 647.40 L445.44 646.30 L461.26 641.60 L477.08 637.70 L492.90 633.50 L508.72 623.00 L524.54 619.10 L540.36 616.10 L556.18 613.80 L572.00 612.10 L587.82 610.30 L603.64 610.30 L619.46 606.80 L635.28 604.50 L651.10 603.30 L666.92 601.00" fill="none" stroke="#808080" stroke-width="1"/>
<circle cx="413.80" cy="647.90" r="3.45" fill="#ffffff" stroke="#808080" stroke-width="0.8"/>
<circle cx="429.62" cy="647.40" r="3.45" fill="#ffffff" stroke="#808080" stroke-width="0.8"/>
<circle cx="445.44" cy="646.30" r="3.45" fill="#ffffff" stroke="#808080" stroke-width="0.8"/>
<circle cx="461.26" cy="641.60" r="3.45" fill="#ffffff" stroke="#808080" stroke-width="0.8"/>
<circle cx="477.08" cy="637.70" r="3.45" fill="#ffffff" stroke="#808080" stroke-width="0.8"/>
<circle cx="492.90" cy="633.50" r="3.45" fill="#ffffff" stroke="#808080" stroke-width="0.8"/>
<circle cx="508.72" cy="623.00" r="3.45" fill="#ffffff" stroke="#808080" stroke-width="0.8"/>
<circle cx="524.54" cy="619.10" r="3.45" fill="#ffffff" stroke="#808080" stroke-width="0.8"/>
<circle cx="540.36" cy="616.10" r="3.45" fill="#ffffff" stroke="#808080" stroke-width="0.8"/>
<circle cx="556.18" cy="613.80" r="3.45" fill="#ffffff" stroke="#808080" stroke-width="0.8"/>
<circle cx="572.00" cy="612.10" r="3.45" fill="#ffffff" stroke="#808080" stroke-width="0.8"/>
<circle cx="587.82" cy="610.30" r="3.45" fill="#ffffff" stroke="#808080" stroke-width="0.8"/>
<circle cx="603.64" cy="610.30" r="3.45" fill="#ffffff" stroke="#808080" stroke-width="0.8"/>
<circle cx="619.46" cy="606.80" r="3.45" fill="#ffffff" stroke="#808080" stroke-width="0.8"/>
<circle cx="635.28" cy="604.50" r="3.45" fill="#ffffff" stroke="#808080" stroke-width="0.8"/>
<circle cx="651.10" cy="603.30" r="3.45" fill="#ffffff" stroke="#808080" stroke-width="0.8"/>
<circle cx="666.92" cy="601.00" r="3.45" fill="#ffffff" stroke="#808080" stroke-width="0.8"/>
</g>
<text x="484.00" y="519.20" font-size="10" fill="#222222" text-anchor="middle" textLength="30.5" lengthAdjust="spacingAndGlyphs">Active</text>
<text x="532.20" y="519.20" font-size="10" fill="#222222" text-anchor="middle" textLength="43.5" lengthAdjust="spacingAndGlyphs">Adjacent</text>
<text x="467.70" y="533.10" font-size="10" fill="#222222" text-anchor="end" textLength="45.3" lengthAdjust="spacingAndGlyphs">Common</text>
<text x="467.70" y="547.00" font-size="10" fill="#222222" text-anchor="end" textLength="46.6" lengthAdjust="spacingAndGlyphs">Patterned</text>
<line x1="473.4" y1="529.5" x2="499" y2="529.5" stroke="#808080" stroke-width="1"/>
<circle cx="485.9" cy="529.5" r="3.45" fill="#808080" stroke="#808080" stroke-width="0.8"/>
<line x1="521.2" y1="529.5" x2="547.4" y2="529.5" stroke="#808080" stroke-width="1"/>
<circle cx="533.9" cy="529.5" r="3.45" fill="#fff" stroke="#808080" stroke-width="0.8"/>
<line x1="473.4" y1="543.4" x2="499" y2="543.4" stroke="#009a14" stroke-width="1"/>
<circle cx="485.9" cy="543.4" r="3.45" fill="#009a14" stroke="#009a14" stroke-width="0.8"/>
<line x1="521.2" y1="543.4" x2="547.4" y2="543.4" stroke="#009a14" stroke-width="1"/>
<circle cx="533.9" cy="543.4" r="3.45" fill="#fff" stroke="#009a14" stroke-width="0.8"/>
</svg>
</body>
</html>
